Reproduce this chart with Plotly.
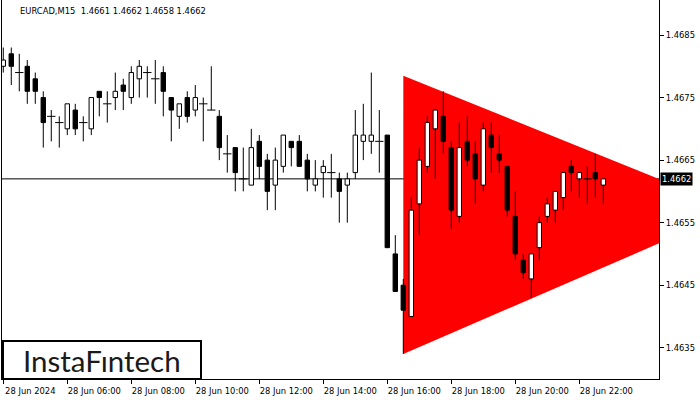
import plotly.graph_objects as go

# ---------------- data (EURCAD M15, 28 Jun 2024, bars from 04:00) ----------------
symbol = "EURCAD,M15"
bar_index = list(range(76))

opens = [1.4680, 1.4682, 1.4679, 1.4680, 1.4678, 1.4675, 1.4672, 1.4671, 1.4670, 1.4673,
         1.4671, 1.4670, 1.4676, 1.4674, 1.4675, 1.4677, 1.4675, 1.4678, 1.4679, 1.4678,
         1.4679, 1.4675, 1.4672, 1.4675, 1.4673, 1.4674, 1.4673, 1.4672, 1.4666, 1.4667,
         1.4662, 1.4661, 1.4668, 1.4665, 1.4661, 1.4664, 1.4668, 1.4668, 1.4665, 1.4661,
         1.4663, 1.4663, 1.4662, 1.4661, 1.4663, 1.4668, 1.4668, 1.4668, 1.4669, 1.4650,
         1.4645, 1.4640, 1.4658, 1.4664, 1.4670, 1.4672, 1.4667, 1.4656, 1.4668, 1.4666,
         1.4661, 1.4669, 1.4666, 1.4664, 1.4656, 1.4649, 1.4646, 1.4651, 1.4656, 1.4657,
         1.4659, 1.4664, 1.4662, 1.4662, 1.4663, 1.4661]
highs = [1.4683, 1.4683, 1.4682, 1.4681, 1.4679, 1.4676, 1.4673, 1.4672, 1.4674, 1.4674,
         1.4672, 1.4675, 1.4676, 1.4676, 1.4679, 1.4678, 1.4680, 1.4681, 1.4680, 1.4681,
         1.4680, 1.4675, 1.4674, 1.4676, 1.4677, 1.4675, 1.4680, 1.4673, 1.4669, 1.4667,
         1.4667, 1.4670, 1.4669, 1.4666, 1.4667, 1.4669, 1.4668, 1.4669, 1.4666, 1.4665,
         1.4665, 1.4666, 1.4663, 1.4663, 1.4673, 1.4674, 1.4679, 1.4673, 1.4669, 1.4653,
         1.4646, 1.4659, 1.4667, 1.4672, 1.4673, 1.4676, 1.4668, 1.4671, 1.4672, 1.4668,
         1.4671, 1.4671, 1.4669, 1.4664, 1.4660, 1.4650, 1.4650, 1.4656, 1.4659, 1.4660,
         1.4663, 1.4665, 1.4663, 1.4664, 1.4666, 1.4662]
lows = [1.4679, 1.4677, 1.4676, 1.4674, 1.4674, 1.4667, 1.4668, 1.4667, 1.4669, 1.4669,
        1.4668, 1.4669, 1.4672, 1.4671, 1.4673, 1.4673, 1.4674, 1.4675, 1.4675, 1.4674,
        1.4672, 1.4668, 1.4670, 1.4671, 1.4672, 1.4668, 1.4673, 1.4665, 1.4663, 1.4660,
        1.4660, 1.4661, 1.4662, 1.4657, 1.4657, 1.4663, 1.4664, 1.4664, 1.4660, 1.4660,
        1.4659, 1.4659, 1.4655, 1.4655, 1.4662, 1.4665, 1.4666, 1.4663, 1.4651, 1.4644,
        1.4634, 1.4640, 1.4653, 1.4663, 1.4662, 1.4666, 1.4654, 1.4655, 1.4664, 1.4658,
        1.4660, 1.4663, 1.4663, 1.4656, 1.4649, 1.4646, 1.4643, 1.4649, 1.4655, 1.4655,
        1.4657, 1.4660, 1.4659, 1.4658, 1.4659, 1.4658]
closes = [1.4681, 1.4680, 1.4679, 1.4676, 1.4676, 1.4671, 1.4672, 1.4671, 1.4674, 1.4670,
          1.4671, 1.4675, 1.4675, 1.4674, 1.4676, 1.4676, 1.4679, 1.4680, 1.4679, 1.4678,
          1.4676, 1.4673, 1.4674, 1.4672, 1.4675, 1.4674, 1.4673, 1.4667, 1.4666, 1.4663,
          1.4662, 1.4667, 1.4664, 1.4660, 1.4665, 1.4669, 1.4667, 1.4664, 1.4662, 1.4662,
          1.4664, 1.4663, 1.4660, 1.4662, 1.4669, 1.4669, 1.4669, 1.4668, 1.4651, 1.4644,
          1.4641, 1.4657, 1.4665, 1.4671, 1.4673, 1.4668, 1.4657, 1.4667, 1.4665, 1.4662,
          1.4670, 1.4667, 1.4665, 1.4657, 1.4650, 1.4647, 1.4650, 1.4655, 1.4658, 1.4660,
          1.4663, 1.4663, 1.4663, 1.4662, 1.4662, 1.4662]

tick_positions = [0, 8, 16, 24, 32, 40, 48, 56, 64, 72]
tick_labels = ["28 Jun 2024", "28 Jun 06:00", "28 Jun 08:00", "28 Jun 10:00", "28 Jun 12:00",
               "28 Jun 14:00", "28 Jun 16:00", "28 Jun 18:00", "28 Jun 20:00", "28 Jun 22:00"]
price_ticks = [1.4635, 1.4645, 1.4655, 1.4665, 1.4675, 1.4685]

# symmetrical triangle pattern (bar index, price)
triangle_bars = [50, 50, 91.56]
triangle_prices = [1.46785, 1.46340, 1.46570]

# ---------------- figure ----------------
FONT = "DejaVu Sans"
fig = go.Figure()

# wicks (split so they don't cross white bodies)
wx, wy = [], []
for i, o, h, l, c in zip(bar_index, opens, highs, lows, closes):
    top, bot = max(o, c), min(o, c)
    if h > top:
        wx += [i, i, None]
        wy += [h, top, None]
    if l < bot:
        wx += [i, i, None]
        wy += [bot, l, None]
fig.add_trace(go.Scatter(x=wx, y=wy, mode="lines", line=dict(color="black", width=1),
                         hoverinfo="skip"))

# bodies
bx, bbase, blen, bcol = [], [], [], []
dx, dy = [], []
for i, o, c in zip(bar_index, opens, closes):
    if abs(c - o) < 1e-9:
        dx.append(i)
        dy.append(c)
    else:
        bx.append(i)
        bbase.append(min(o, c))
        blen.append(abs(c - o))
        bcol.append("white" if c > o else "black")
fig.add_trace(go.Bar(x=bx, y=blen, base=bbase, width=0.55,
                     marker=dict(color=bcol, line=dict(color="black", width=1))))
fig.add_trace(go.Scatter(x=dx, y=dy, mode="markers",
                         marker=dict(symbol="line-ew", size=6,
                                     line=dict(color="black", width=1)),
                         hoverinfo="skip"))

tri_path = "M {},{} L {},{} L {},{} Z".format(
    triangle_bars[0], triangle_prices[0], triangle_bars[1], triangle_prices[1],
    triangle_bars[2], triangle_prices[2])

last_o, last_h, last_l, last_c = opens[-1], highs[-1], lows[-1], closes[-1]

fig.update_layout(
    width=700, height=400,
    margin=dict(l=2, r=41, t=0, b=21, autoexpand=False),
    paper_bgcolor="white", plot_bgcolor="white",
    showlegend=False, barmode="overlay",
    xaxis=dict(range=[-0.16, 81.96], tickmode="array", tickvals=tick_positions,
               ticktext=tick_labels, ticks="outside", ticklen=4, tickcolor="black",
               showline=True, linecolor="black", linewidth=1, mirror=True,
               showgrid=False, zeroline=False, automargin=False, ticklabelshift=27,
               ticklabelstandoff=0,
               tickfont=dict(family=FONT, size=8.4, color="black")),
    yaxis=dict(range=[1.46300, 1.46906], side="right", tickmode="array",
               tickvals=price_ticks, ticktext=[f"{p:.4f}" for p in price_ticks],
               ticks="outside", ticklen=4, tickcolor="black",
               showline=True, linecolor="black", linewidth=1, mirror=True,
               showgrid=False, zeroline=False, automargin=False,
               tickfont=dict(family=FONT, size=8.4, color="black")),
    shapes=[
        dict(type="path", path=tri_path, xref="x", yref="y", fillcolor="#ff0000",
             line=dict(width=0), layer="below"),
        dict(type="line", xref="paper", yref="y", x0=0, x1=1, y0=last_c, y1=last_c,
             line=dict(color="black", width=1), layer="below"),
        dict(type="rect", xref="paper", yref="paper", x0=0.0015, x1=0.3029, y0=0, y1=0.1003,
             fillcolor="white", line=dict(color="black", width=2), layer="above"),
    ],
    annotations=[
        dict(text=f"{symbol}  {last_o:.4f} {last_h:.4f} {last_l:.4f} {last_c:.4f}",
             xref="paper", yref="paper", x=0.0244, y=0.971, xanchor="left", yanchor="middle",
             showarrow=False, font=dict(family=FONT, size=8.4, color="#000000")),
        dict(text=f"{last_c:.4f}", xref="paper", yref="y", x=1, y=last_c,
             xanchor="left", yanchor="middle", xshift=1, showarrow=False,
             bgcolor="black", borderpad=1,
             font=dict(family=FONT, size=8.4, color="white")),
        dict(text="InstaFıntech", xref="paper", yref="paper", x=0.152, y=0.05,
             xanchor="center", yanchor="middle", showarrow=False,
             font=dict(family="Lato", size=29.5, color="#1a1a1a")),
    ],
)

fig.write_html("out.html", config={"displayModeBar": False},
               post_script="document.body.style.margin='0';document.body.style.overflow='hidden';")
